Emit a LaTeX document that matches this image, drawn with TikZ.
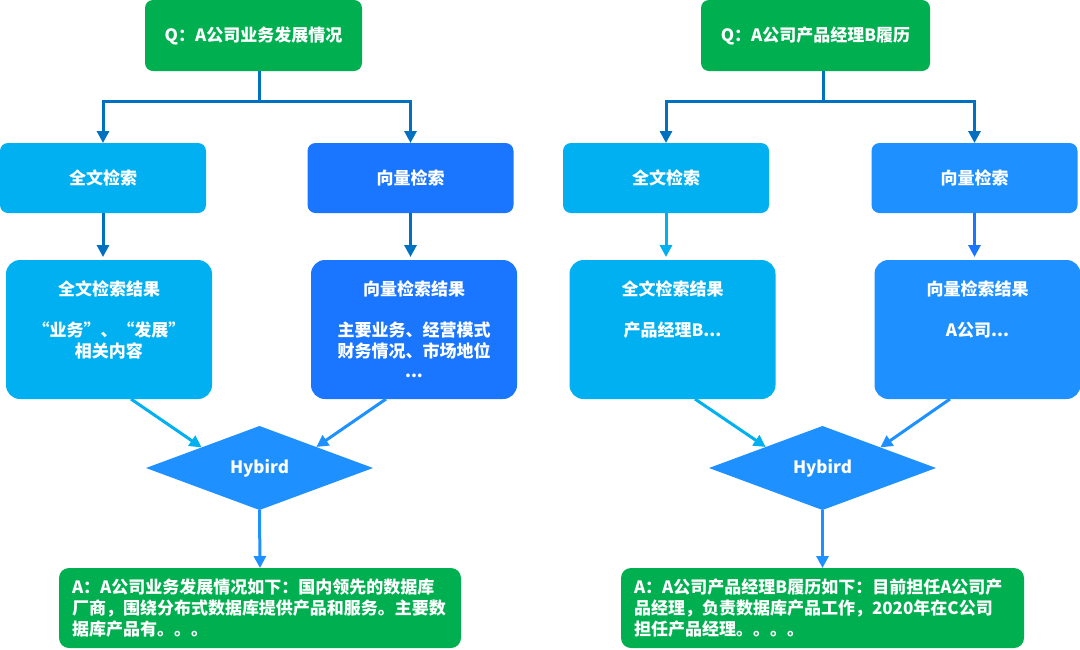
\documentclass[tikz,border=0pt]{standalone}
\usepackage{fontspec}
\setmainfont{Noto Sans CJK SC}
\usetikzlibrary{calc,arrows.meta,shapes.geometric}
\definecolor{qgreen}{HTML}{00B050}
\definecolor{ftcyan}{HTML}{00B0F0}
\definecolor{vecblue}{HTML}{1A75FF}
\definecolor{vecbright}{HTML}{1E90FF}
\definecolor{treeblue}{HTML}{0070C0}
\tikzset{
	>={Triangle[width=12pt,length=12pt]},
	qbox/.style={
		rectangle, 
		rounded corners=8pt, 
		fill=qgreen,
		text=white,
		minimum width=217pt, 
		minimum height=71pt, 
		outer sep=0pt,
		font=\bfseries\fontsize{17}{21}\selectfont},
	searchbox/.style={
		rectangle, 
		rounded corners=8pt, 
		text=white,
		minimum width=206pt, 
		minimum height=70pt, 
		outer sep=0pt,
		font=\bfseries\fontsize{17}{21}\selectfont},
	resultbox/.style={
		rectangle, 
		rounded corners=14pt, 
		text=white,
		inner xsep=8pt, inner ysep=0pt,
		text width=190pt, 
		text height=35.5pt, text depth=103.5pt,
		text centered, 
		outer sep=0pt,
		font=\bfseries\fontsize{17}{20.5}\selectfont},
	mergebox/.style={
		diamond, 
		fill=vecbright,
		text=white,
		inner sep=0pt,
		minimum width=227pt, 
		minimum height=84pt, 
		outer sep=0pt,
		font=\bfseries\fontsize{17}{21}\selectfont},
	answerbox/.style={
		rectangle, 
		rounded corners=10pt, 
		fill=qgreen,
		text=white,
		inner xsep=13pt,
		text width=376pt, 
		minimum height=80pt, 
		align=left,
		outer sep=0pt,
		font=\bfseries\fontsize{17}{21}\selectfont},
	branch/.style={draw=treeblue, line width=3pt},
	flow/.style={->, line width=3pt},
}
\begin{document}
\begin{tikzpicture}
[x=1pt, y=-1pt,]
\useasboundingbox (0,0) rectangle (1080,649);
% linke Seite
\node[qbox] (qL) at (253.5,35.5) {Q：A公司业务发展情况};
\node[searchbox, fill=ftcyan] (sfL) at (103,178) {全文检索};
\node[searchbox, fill=vecblue] (svL) at (410.5,178) {向量检索};
\node[resultbox, fill=ftcyan] (rfL) at (109,329.5) {全文检索结果\\[20.5pt]“业务”、“发展”\\相关内容};
\node[resultbox, fill=vecblue] (rvL) at (414,329.5) {向量检索结果\\[20.5pt]主要业务、经营模式\\财务情况、市场地位\\...};
\node[mergebox] (hL) at (259.5,468) {Hybird};
\node[answerbox] (aL) at (260,608) {A：A公司业务发展情况如下：国内领先的数据库\\厂商，围绕分布式数据库提供产品和服务。主要数\\据库产品有。。。};
\coordinate (jL) at (259,101);
\draw[branch] (qL.south -| jL) -- (jL);
\draw[branch, ->] (jL) -| (sfL.north);
\draw[branch, ->] (jL) -| (svL.north);
\draw[flow, treeblue, shorten >=3pt] (sfL.south) -- (sfL.south |- rfL.north);
\draw[flow, treeblue, shorten >=3pt] (svL.south) -- (svL.south |- rvL.north);
\draw[flow, ftcyan] ([xshift=22pt]rfL.south) -- ($(hL.west)!0.49!(hL.north)$);
\draw[flow, vecbright] ([xshift=-28pt]rvL.south) -- ($(hL.north)!0.5!(hL.east)$);
\draw[flow, vecbright] (hL.south) -- (aL.north);
% rechte Seite
\node[qbox, minimum width=229pt] (qR) at (815.5,35.5) {Q：A公司产品经理B履历};
\node[searchbox, fill=ftcyan] (sfR) at (666,178) {全文检索};
\node[searchbox, fill=vecbright] (svR) at (974.5,178) {向量检索};
\node[resultbox, fill=ftcyan] (rfR) at (672.5,329.5) {全文检索结果\\[20.5pt]产品经理B...};
\node[resultbox, fill=vecbright] (rvR) at (977.5,329.5) {向量检索结果\\[20.5pt]A公司...};
\node[mergebox] (hR) at (822.5,468) {Hybird};
\node[answerbox, text width=377pt] (aR) at (822.5,608) {A：A公司产品经理B履历如下：目前担任A公司产\\品经理，负责数据库产品工作，2020年在C公司\\担任产品经理。。。。};
\coordinate (jR) at (823,101);
\draw[branch] (qR.south -| jR) -- (jR);
\draw[branch, ->] (jR) -| (sfR.north);
\draw[branch, ->] (jR) -| (svR.north);
\draw[flow, ftcyan, shorten >=3pt] (sfR.south) -- (sfR.south |- rfR.north);
\draw[flow, vecblue, shorten >=3pt] (svR.south) -- (svR.south |- rvR.north);
\draw[flow, ftcyan] ([xshift=22.5pt]rfR.south) -- ($(hR.west)!0.5!(hR.north)$);
\draw[flow, vecbright] ([xshift=-27.5pt]rvR.south) -- ($(hR.north)!0.51!(hR.east)$);
\draw[flow, vecbright] (hR.south) -- (aR.north);

\end{tikzpicture}
\end{document}
